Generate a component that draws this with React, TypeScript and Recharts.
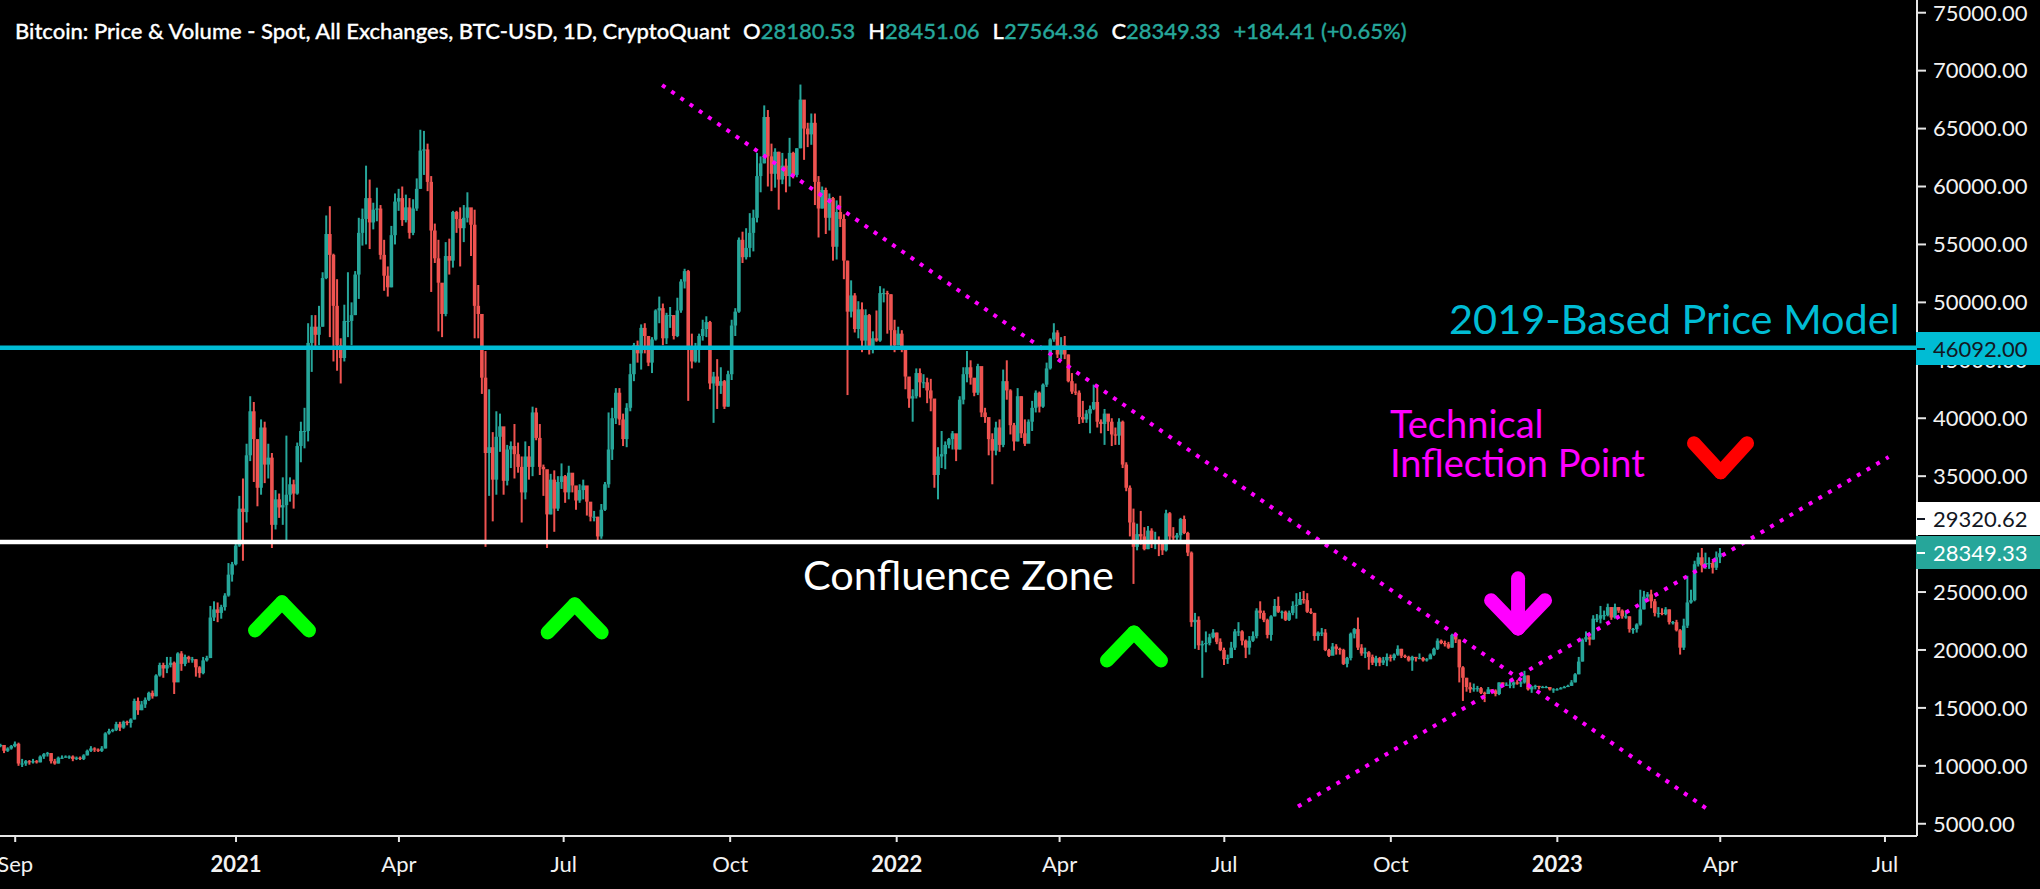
import { ComposedChart, Bar, XAxis, YAxis, ReferenceLine } from "recharts"

const WIDTH = 2040
const HEIGHT = 889
const FONT = "Lato, 'Noto Sans', sans-serif"

const UP = "#26a69a"
const DOWN = "#ef5350"

// two-day candles, in thousands of USD, first one is day -130 (late Aug 2020)
const firstOpen = 11.7
const closes = [
  11.8,11.3,11.5,11.7,11.9,10.2,10.2,10.4,10.3,10.4,10.3,10.8,11.0,11.1,10.4,
  10.2,10.7,10.7,10.8,10.8,10.6,10.7,10.6,10.9,11.3,11.5,11.4,11.3,11.5,12.8,
  13.0,13.1,13.6,13.3,13.8,13.7,14.0,15.6,14.8,15.3,15.7,16.3,16.0,17.8,18.7,
  18.4,18.7,18.9,17.2,19.7,18.8,19.4,19.2,19.2,18.5,18.0,19.1,19.3,22.8,23.5,
  23.2,23.7,24.7,26.5,27.4,29.0,32.2,31.9,36.8,40.6,38.2,34.0,39.2,36.0,36.6,
  30.8,33.0,32.3,32.5,33.4,34.3,33.5,37.6,38.9,38.9,46.5,47.9,47.2,47.9,52.1,
  55.9,54.1,49.7,46.3,45.2,48.4,48.4,48.9,52.4,56.0,57.2,59.0,56.9,58.0,58.1,
  54.1,52.3,51.3,55.8,58.7,59.0,57.1,58.2,56.0,58.1,59.8,63.1,63.2,60.4,56.2,
  53.8,51.7,49.0,54.0,53.6,57.8,57.2,56.4,57.3,58.2,56.7,49.7,49.0,43.5,37.0,
  37.5,34.7,38.4,39.3,34.6,37.3,37.6,36.9,35.8,33.6,36.7,35.8,40.5,38.3,35.8,
  35.6,31.7,34.7,32.2,34.5,35.0,33.6,35.3,34.2,32.9,33.8,34.2,32.8,31.5,31.5,
  29.8,32.1,34.3,37.3,40.0,42.2,39.9,38.2,40.9,43.8,46.3,45.6,47.8,47.1,44.8,
  46.8,49.3,49.5,46.9,48.9,48.9,47.1,49.3,51.8,52.7,46.1,44.9,46.1,47.1,47.7,
  48.3,43.0,43.6,42.8,43.2,41.0,43.8,48.0,49.2,55.4,53.9,54.7,56.0,57.3,60.9,
  62.0,66.0,62.6,61.1,63.0,60.6,61.8,60.9,62.9,61.0,63.3,67.5,65.0,64.5,65.5,
  60.4,58.1,59.7,57.3,59.0,54.8,57.8,57.2,53.6,49.2,50.6,47.7,49.4,46.7,48.9,
  46.2,46.9,46.7,50.8,50.8,50.7,47.6,46.3,47.3,45.9,43.6,41.7,41.9,43.9,43.1,
  43.1,42.4,41.7,35.1,36.7,36.9,37.7,38.2,38.7,37.3,41.6,43.8,44.4,43.5,42.2,
  44.5,40.5,40.1,38.2,37.2,39.2,37.7,43.2,42.4,39.4,38.0,41.9,38.7,37.8,39.7,
  40.9,42.2,41.0,42.9,44.3,46.8,47.4,45.5,46.3,45.5,43.2,42.3,42.2,40.1,39.9,
  40.4,40.8,41.4,39.7,39.5,40.4,39.7,38.6,38.5,39.7,36.0,34.0,31.0,28.9,30.0,
  29.8,28.7,30.3,29.2,29.5,29.2,28.6,31.8,29.8,29.7,29.9,31.3,30.1,28.4,22.4,
  22.6,20.4,20.5,20.6,21.1,21.5,20.7,20.0,19.2,19.3,20.2,21.6,21.6,20.8,20.2,
  20.8,21.2,23.4,23.2,22.6,21.3,22.9,23.8,23.3,23.3,22.6,23.2,23.8,23.9,24.4,
  24.3,23.3,23.2,21.2,21.5,21.5,20.0,19.5,20.3,20.1,20.0,18.8,19.3,21.4,21.8,
  20.2,19.7,19.8,19.4,18.9,19.3,18.9,19.1,19.4,19.3,19.6,20.1,19.5,19.4,19.1,
  19.4,19.3,19.3,19.1,19.2,19.6,20.1,20.8,20.6,20.5,20.2,21.3,20.9,18.5,17.6,
  16.8,16.6,16.7,16.7,16.3,16.2,16.6,16.5,16.2,17.2,17.0,17.0,17.0,17.2,17.1,
  17.2,17.8,16.6,16.8,16.9,16.8,16.8,16.8,16.6,16.6,16.6,16.7,16.8,16.9,17.2,
  17.9,19.0,20.9,21.1,20.9,22.7,22.7,23.0,23.0,23.7,22.8,23.7,23.4,22.9,22.9,
  21.8,21.8,22.2,23.5,24.6,24.8,24.2,23.2,23.2,23.1,23.5,22.4,22.4,21.7,20.2,
  22.1,24.1,24.3,27.4,28.0,27.3,27.5,27.5,27.1,28.0,28.35,
]
const highs = [
  11.9,11.6,11.6,11.8,12.1,12.0,10.6,10.5,10.5,10.6,10.5,10.9,11.1,11.2,11.1,
  10.6,10.8,10.9,10.9,10.9,10.9,10.8,10.8,11.0,11.4,11.7,11.6,11.5,11.7,12.9,
  13.2,13.2,13.8,13.8,13.9,13.9,14.1,15.8,15.9,15.6,15.9,16.4,16.5,17.9,18.9,
  18.9,19.4,19.4,19.0,19.8,19.9,19.6,19.5,19.4,19.2,18.6,19.4,19.5,23.8,24.2,
  24.1,23.9,24.9,27.5,27.6,29.3,33.3,34.8,37.8,41.9,41.4,37.5,39.9,39.7,37.8,
  37.0,33.8,33.5,34.9,38.5,34.9,34.7,37.9,39.7,40.9,48.2,48.9,48.9,49.7,52.6,
  57.5,58.3,54.2,52.0,46.9,49.8,52.6,50.0,52.7,57.3,58.1,61.8,60.6,58.6,59.9,
  58.4,55.4,53.1,56.6,59.4,59.8,60.0,59.3,59.0,58.9,60.7,64.9,64.8,63.7,60.9,
  56.8,55.4,51.2,55.2,55.5,57.9,57.9,58.2,58.4,59.5,58.0,58.0,51.5,46.6,45.8,
  42.5,38.8,40.6,40.4,39.0,37.7,38.0,39.5,37.9,36.7,38.0,37.6,41.0,40.9,39.5,
  36.0,33.3,35.2,35.5,35.0,36.1,35.1,35.9,35.1,34.1,34.3,34.7,33.2,32.5,32.0,
  31.5,32.6,34.5,40.5,40.9,42.6,42.6,40.4,41.3,44.7,46.5,46.7,48.1,48.2,47.1,
  47.0,49.4,50.5,49.9,49.1,49.6,48.9,50.4,52.0,52.9,52.8,47.3,46.5,47.3,48.5,
  48.8,48.4,44.0,45.1,44.4,43.3,44.1,48.5,49.5,55.6,56.1,56.4,57.7,58.0,62.9,
  62.6,67.0,66.6,63.7,63.3,63.0,62.9,62.4,64.2,63.0,63.3,68.8,66.5,65.5,66.3,
  66.3,60.9,60.0,59.9,59.4,59.1,58.8,59.2,57.6,53.6,51.9,50.8,50.1,50.0,49.4,
  49.0,47.5,49.3,51.4,51.2,51.0,50.7,48.5,47.9,47.6,46.0,43.2,42.5,44.3,44.3,
  43.8,43.5,43.4,41.1,37.5,38.9,38.0,38.3,38.9,38.5,41.9,44.4,45.8,45.0,42.7,
  44.7,44.2,40.9,40.0,38.7,39.7,39.9,44.2,45.0,42.5,39.6,42.6,41.9,39.9,39.9,
  41.5,42.4,42.3,43.0,44.8,46.9,48.2,47.6,47.0,47.1,45.5,43.9,43.0,42.4,41.5,
  40.7,41.1,42.9,42.9,39.9,40.8,40.3,40.0,39.2,40.0,39.8,36.2,34.2,32.2,30.9,
  32.0,30.6,30.7,30.5,30.2,29.8,29.5,32.1,31.9,30.6,30.1,31.4,31.6,30.2,28.5,
  23.2,22.9,20.8,21.6,21.4,21.8,21.5,21.0,20.2,19.6,20.7,21.8,22.4,21.7,20.9,
  21.2,21.6,23.6,24.2,23.4,22.7,23.0,24.4,24.6,23.4,23.4,23.4,24.2,24.9,25.0,
  25.1,24.9,23.6,23.2,21.6,21.9,21.8,20.1,20.6,20.5,20.2,20.1,19.4,21.5,21.9,
  22.8,20.5,20.2,19.9,19.6,19.5,19.4,19.4,19.7,19.6,19.7,20.4,20.1,19.6,19.5,
  19.5,19.4,19.7,19.4,19.3,19.7,20.2,21.0,20.9,20.8,20.7,21.4,21.5,20.9,18.6,
  17.6,17.2,17.1,16.9,16.8,16.4,16.8,16.6,16.6,17.2,17.2,17.2,17.4,17.3,17.4,
  17.3,18.2,17.8,16.9,17.0,16.9,16.9,16.9,16.8,16.7,16.7,16.8,16.9,17.0,17.4,
  18.0,19.4,21.0,21.6,21.2,23.0,23.1,23.8,23.4,24.0,23.7,24.0,23.7,23.5,23.4,
  22.9,21.9,22.3,25.2,25.1,25.0,25.2,24.4,23.7,23.6,23.7,23.5,22.5,22.6,21.8,
  22.7,26.4,25.2,27.7,28.4,28.8,28.4,28.0,27.7,28.5,28.8,
]
const lows = [
  11.6,11.1,11.2,11.4,11.6,10.0,9.9,10.0,10.1,10.2,10.2,10.3,10.6,10.8,10.2,
  10.1,10.2,10.6,10.7,10.6,10.4,10.5,10.5,10.5,10.9,11.2,11.2,11.2,11.2,11.5,
  12.7,12.9,13.0,13.0,13.2,13.5,13.3,14.0,14.4,14.8,15.0,15.6,15.8,16.0,17.7,
  17.6,18.0,18.5,16.2,17.5,18.2,18.6,18.9,18.9,17.7,17.6,17.9,19.0,19.3,22.5,
  22.4,22.7,23.4,24.6,25.9,27.3,28.9,27.7,31.0,36.3,34.5,32.4,33.4,34.4,34.8,
  28.8,30.4,31.4,30.8,29.2,32.8,32.2,33.4,36.2,37.4,38.0,44.0,46.2,46.3,47.9,
  52.0,47.0,44.9,44.1,43.0,44.9,47.0,46.3,48.9,50.3,54.9,55.0,54.6,56.3,57.0,
  53.7,51.0,50.5,51.3,55.0,57.9,56.6,56.9,55.5,55.8,57.9,59.8,61.0,59.6,50.9,
  53.4,47.5,47.0,48.8,52.4,53.0,56.0,53.1,55.2,56.9,54.0,46.9,46.9,42.1,28.9,
  33.3,31.1,33.4,37.1,33.4,34.2,35.7,34.8,35.3,31.0,33.0,34.7,35.0,38.1,35.1,
  33.3,28.8,31.7,30.2,32.0,33.9,32.7,33.0,33.6,32.1,32.7,33.0,31.6,31.1,31.1,
  29.3,29.6,32.0,34.0,36.4,39.5,39.4,37.6,37.5,40.6,43.2,44.8,44.2,45.6,44.5,
  43.9,46.7,48.2,46.3,46.4,47.8,46.8,47.0,49.1,51.2,41.5,44.3,44.8,44.8,46.7,
  47.0,42.5,39.6,40.8,42.1,40.8,41.0,43.3,47.1,49.1,53.4,53.7,53.9,54.4,56.9,
  59.5,62.0,60.0,59.6,59.9,58.0,60.2,59.5,60.0,60.7,60.8,63.3,62.3,63.4,63.6,
  58.4,55.6,58.1,55.9,56.2,53.6,53.7,56.5,52.0,42.0,48.7,47.4,46.9,45.7,46.0,
  45.5,45.6,46.6,46.6,50.0,47.3,46.0,45.7,46.3,45.7,42.5,40.9,39.7,41.7,41.8,
  42.6,41.3,40.6,34.0,33.0,35.7,35.6,37.4,37.3,36.3,37.3,41.2,43.1,42.9,41.9,
  42.0,40.1,39.6,36.8,34.3,36.8,37.1,37.5,41.6,38.6,37.2,38.0,38.3,37.6,38.1,
  38.9,40.5,40.5,40.9,42.7,44.2,46.6,45.2,45.1,45.1,43.1,42.1,42.0,39.5,39.6,
  39.6,38.7,40.7,39.2,38.7,37.7,38.9,37.6,37.7,37.7,35.7,33.7,29.8,25.7,28.6,
  29.1,28.6,28.7,28.8,28.7,28.1,28.2,28.5,29.4,29.3,29.5,29.4,30.0,28.1,22.0,
  20.1,20.0,17.6,19.8,20.4,21.0,20.5,19.9,18.7,18.8,19.3,20.0,21.2,20.4,19.3,
  19.6,20.7,21.0,22.7,22.4,21.0,20.8,22.9,23.2,22.7,22.5,22.5,23.0,22.7,23.9,
  24.0,23.2,23.1,20.8,20.8,21.2,19.9,19.4,19.6,19.6,19.6,18.7,18.5,19.1,21.0,
  20.0,19.5,19.3,18.3,18.7,18.6,18.6,18.7,18.6,19.0,19.1,19.5,19.3,19.3,19.0,
  18.2,19.0,19.2,19.0,19.0,19.2,19.5,20.0,20.5,20.3,20.1,20.2,20.6,17.2,15.6,
  16.4,16.3,16.4,16.4,16.2,15.5,16.2,16.3,16.0,16.1,16.8,16.9,16.7,16.7,17.0,
  16.8,17.1,16.5,16.3,16.6,16.6,16.7,16.7,16.5,16.3,16.5,16.6,16.7,16.8,16.9,
  17.2,17.9,19.0,20.7,20.4,20.9,22.4,22.3,22.6,22.9,22.6,22.7,23.2,22.7,22.7,
  21.5,21.4,21.5,22.1,23.5,24.2,23.6,22.9,22.8,23.0,23.0,22.2,22.2,21.6,19.6,
  20.0,21.9,24.0,24.2,27.2,26.7,27.0,27.0,26.6,26.9,27.5,
]

// x axis is days since 1 Jan 2021
const tickDays = [-122, 0, 90, 181, 273, 365, 455, 546, 638, 730, 820, 911]
const tickLabels = ["Sep", "2021", "Apr", "Jul", "Oct", "2022", "Apr", "Jul", "Oct", "2023", "Apr", "Jul"]
const boldTicks = ["2021", "2022", "2023"]
// 30000 sits behind the price tags in the original, so it is left out
const priceTicks = [5000, 10000, 15000, 20000, 25000, 35000, 40000, 45000, 50000, 55000, 60000, 65000, 70000, 75000]

const modelPrice = 46092
const confluencePrice = 29320.62
const lastPrice = 28349.33

// [day, price] polylines
const trendDown = [[235.4, 68756], [813, 6250]]
const trendUp = [[586.7, 6488], [913, 36650]]
const greenChevrons = [
  [[10.5, 21690], [25.4, 24108], [40.3, 21690]],
  [[172.2, 21517], [187.1, 23935], [202, 21517]],
  [[481.2, 19099], [496.1, 21517], [511, 19099]],
]
const redChevron = [[805.5, 37839], [820.2, 35335], [834.8, 37839]]
const arrowHead = [[693.4, 24281], [708.3, 21862], [723.2, 24281]]
const arrowStem = [[708.3, 26181], [708.3, 21862]]

const data = closes.map((close, i) => {
  const open = i === 0 ? firstOpen : closes[i - 1]
  return {
    day: -130 + i * 2,
    open: open * 1000,
    close: close * 1000,
    range: [lows[i] * 1000, highs[i] * 1000],
  }
})

function Candle(props: any) {
  const { x, y, width, height, payload } = props
  const [low, high] = payload.range
  const color = payload.close >= payload.open ? UP : DOWN
  const perPrice = Math.abs(height) / (high - low)
  const top = y + (high - Math.max(payload.open, payload.close)) * perPrice
  const bodyH = Math.max(Math.abs(payload.close - payload.open) * perPrice, 1)
  const cx = x + width / 2
  return (
    <g>
      <line x1={cx} x2={cx} y1={y} y2={y + Math.abs(height)} stroke={color} strokeWidth={2} />
      <rect x={cx - 1.8} y={top} width={3.6} height={bodyH} fill={color} />
    </g>
  )
}

function DateTick(props: any) {
  const { x, y, index } = props
  const label = tickLabels[index]
  return (
    <text x={x} y={y + 28} textAnchor="middle" fill="#f2f2f2" fontFamily={FONT} fontSize={22}
      fontWeight={boldTicks.includes(label) ? 700 : 400}>
      {label}
    </text>
  )
}

function segments(points: number[][]) {
  return points.slice(1).map((p, i) => [
    { x: points[i][0], y: points[i][1] },
    { x: p[0], y: p[1] },
  ])
}

function PriceTag(props: { top: number; label: string; bg: string; color: string }) {
  return (
    <div style={{ position: "absolute", left: 1916, top: props.top, width: 124, height: 33, background: props.bg }}>
      <div style={{ position: "absolute", left: 1, top: 16, width: 8, height: 2, background: props.color }} />
      <div style={{ position: "absolute", left: 17, top: 0, lineHeight: "33px", fontSize: 22, color: props.color, fontFamily: FONT }}>
        {props.label}
      </div>
    </div>
  )
}

const ohlc = [["O", "28180.53"], ["H", "28451.06"], ["L", "27564.36"], ["C", "28349.33"]]

export default function App() {
  const annotation = { strokeLinecap: "round" as const, ifOverflow: "extendDomain" as const }
  return (
    <div style={{ position: "absolute", left: 0, top: 0, width: WIDTH, height: HEIGHT, background: "#000", overflow: "hidden" }}>
      <ComposedChart width={WIDTH} height={HEIGHT} data={data} margin={{ top: 0, right: 0, bottom: 0, left: 0 }}>
        <XAxis
          dataKey="day"
          type="number"
          domain={[-130.4, 928.7]}
          allowDataOverflow
          ticks={tickDays}
          interval={0}
          height={53}
          stroke="#e6e6e6"
          strokeWidth={2}
          tickSize={6}
          tick={<DateTick />}
        />
        <YAxis
          orientation="right"
          type="number"
          domain={[3944, 76097]}
          allowDataOverflow
          ticks={priceTicks}
          interval={0}
          width={123}
          stroke="#e6e6e6"
          strokeWidth={2}
          tickSize={9}
          tickMargin={7}
          tick={{ fill: "#f2f2f2", fontSize: 22, fontFamily: FONT }}
          tickFormatter={(v: number) => v.toFixed(2)}
        />
        <ReferenceLine segment={segments(trendDown)[0]} stroke="#ff00ff" strokeWidth={4} strokeDasharray="4 7.2" />
        <ReferenceLine segment={segments(trendUp)[0]} stroke="#ff00ff" strokeWidth={4} strokeDasharray="4 7.2" />
        <Bar dataKey="range" barSize={3} shape={<Candle />} isAnimationActive={false} />
        <ReferenceLine y={modelPrice} stroke="#00bcd4" strokeWidth={4.5} />
        <ReferenceLine y={confluencePrice} stroke="#ffffff" strokeWidth={4.5} />
        {greenChevrons.flatMap((c, k) =>
          segments(c).map((s, i) => <ReferenceLine key={`g${k}${i}`} segment={s} stroke="#00ff00" strokeWidth={14} {...annotation} />)
        )}
        {segments(redChevron).map((s, i) => <ReferenceLine key={`r${i}`} segment={s} stroke="#ff0000" strokeWidth={14} {...annotation} />)}
        {segments(arrowHead).map((s, i) => <ReferenceLine key={`a${i}`} segment={s} stroke="#ff00ff" strokeWidth={14} {...annotation} />)}
        {segments(arrowStem).map((s, i) => <ReferenceLine key={`s${i}`} segment={s} stroke="#ff00ff" strokeWidth={14} {...annotation} />)}
      </ComposedChart>

      <div style={{ position: "absolute", left: 15, top: 17, fontFamily: FONT, fontSize: 22, fontWeight: 500, color: "#fff", whiteSpace: "pre", WebkitTextStroke: "0.3px" }}>
        Bitcoin: Price &amp; Volume - Spot, All Exchanges, BTC-USD, 1D, CryptoQuant
        {ohlc.map(([k, v]) => (
          <span key={k} style={{ marginLeft: 13 }}>
            {k}<span style={{ color: UP }}>{v}</span>
          </span>
        ))}
        <span style={{ marginLeft: 13, color: UP }}>+184.41 (+0.65%)</span>
      </div>

      <div style={{ position: "absolute", left: 1449, top: 293, fontFamily: FONT, fontSize: 41.5, color: "#00bcd4", whiteSpace: "pre" }}>2019-Based Price Model</div>
      <div style={{ position: "absolute", left: 803, top: 549, fontFamily: FONT, fontSize: 41.5, color: "#fff", whiteSpace: "pre" }}>Confluence Zone</div>
      <div style={{ position: "absolute", left: 1390, top: 404, fontFamily: FONT, fontSize: 38, lineHeight: "39px", color: "#ff00ff", whiteSpace: "pre" }}>{"Technical\nInflection Point"}</div>

      <PriceTag top={332} label={modelPrice.toFixed(2)} bg="#00bcd4" color="#131722" />
      <PriceTag top={502} label={confluencePrice.toFixed(2)} bg="#ffffff" color="#131722" />
      <PriceTag top={536} label={lastPrice.toFixed(2)} bg={UP} color="#ffffff" />
    </div>
  )
}
